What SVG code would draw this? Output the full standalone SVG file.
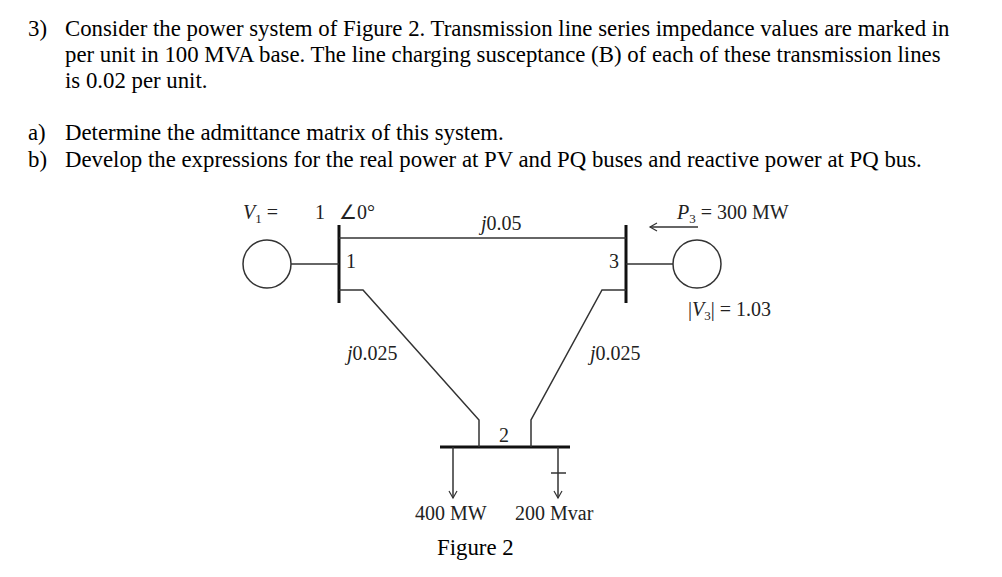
<svg xmlns="http://www.w3.org/2000/svg" width="1002" height="577" viewBox="0 0 1002 577">
<style>
.t{font-family:"Liberation Serif",serif;font-size:22.8px;fill:#000}
.m{font-family:"Liberation Serif",serif;font-size:20px;fill:#222}
.i{font-style:italic}
.w{stroke:#333;stroke-width:1.5;fill:none}
.b{stroke:#111;stroke-width:3;fill:none}
</style>
<defs><marker id="ar" markerWidth="10" markerHeight="10" refX="8" refY="5" orient="auto" markerUnits="userSpaceOnUse"><path d="M1,1 L8,5 L1,9" fill="none" stroke="#333" stroke-width="1.2"/></marker></defs>
<rect width="1002" height="577" fill="#fff"/>
<g id="text">
<text class="t" x="28" y="36">3)</text>
<text class="t" x="65" y="36">Consider the power system of Figure 2. Transmission line series impedance values are marked in</text>
<text class="t" x="65" y="62">per unit in 100 MVA base. The line charging susceptance (B) of each of these transmission lines</text>
<text class="t" x="65" y="88">is 0.02 per unit.</text>
<text class="t" x="28" y="140">a)</text>
<text class="t" x="65" y="140">Determine the admittance matrix of this system.</text>
<text class="t" x="28" y="167">b)</text>
<text class="t" x="65" y="167">Develop the expressions for the real power at PV and PQ buses and reactive power at PQ bus.</text>
<text class="t" x="437" y="555">Figure 2</text>
</g>
<g id="gen1"><circle class="w" cx="267" cy="264" r="24"/>
<text class="m" x="243" y="219"><tspan class="i">V</tspan><tspan font-size="13" dy="4">1</tspan><tspan dy="-4"> =</tspan></text>
<text class="m" x="315" y="219">1</text><text class="m" x="339" y="219">∠0°</text></g>
<g id="bus1"><line class="b" x1="339" y1="225" x2="339" y2="303"/><text class="m" x="346" y="268">1</text></g>
<g id="bus3"><line class="b" x1="626" y1="225" x2="626" y2="303"/><text class="m" x="609" y="268">3</text></g>
<g id="gen3"><circle class="w" cx="697" cy="264" r="24"/>
<text class="m" x="677" y="219"><tspan class="i">P</tspan><tspan font-size="13" dy="4">3</tspan><tspan dy="-4"> = 300 MW</tspan></text>
<text class="m" x="688" y="316">|<tspan class="i">V</tspan><tspan font-size="13" dy="4">3</tspan><tspan dy="-4">| = 1.03</tspan></text></g>
<g id="bus2"><line class="b" x1="440" y1="447" x2="570" y2="447"/><text class="m" x="499" y="442">2</text>
<text class="m" x="415" y="520">400 MW</text><text class="m" x="515" y="520">200 Mvar</text></g>
<g id="connectors">
<line class="w" x1="291" y1="264" x2="339" y2="264"/>
<line class="w" x1="626" y1="264" x2="673" y2="264"/>
<line class="w" x1="339" y1="238" x2="626" y2="238"/>
<text class="m i" x="481" y="230">j<tspan font-style="normal">0.05</tspan></text>
<polyline class="w" points="339,290 363,290 479,420 479,447"/>
<polyline class="w" points="626,290 602,290 531,420 531,447"/>
<text class="m i" x="347" y="360">j<tspan font-style="normal">0.025</tspan></text>
<text class="m i" x="590" y="360">j<tspan font-style="normal">0.025</tspan></text>
<line class="w" x1="453" y1="447" x2="453" y2="498" marker-end="url(#ar)"/>
<line class="w" x1="558" y1="447" x2="558" y2="498" marker-end="url(#ar)"/>
<line class="w" x1="551" y1="473" x2="566" y2="473"/>
<line class="w" x1="698" y1="227" x2="650" y2="227" marker-end="url(#ar)"/>
</g>
</svg>
